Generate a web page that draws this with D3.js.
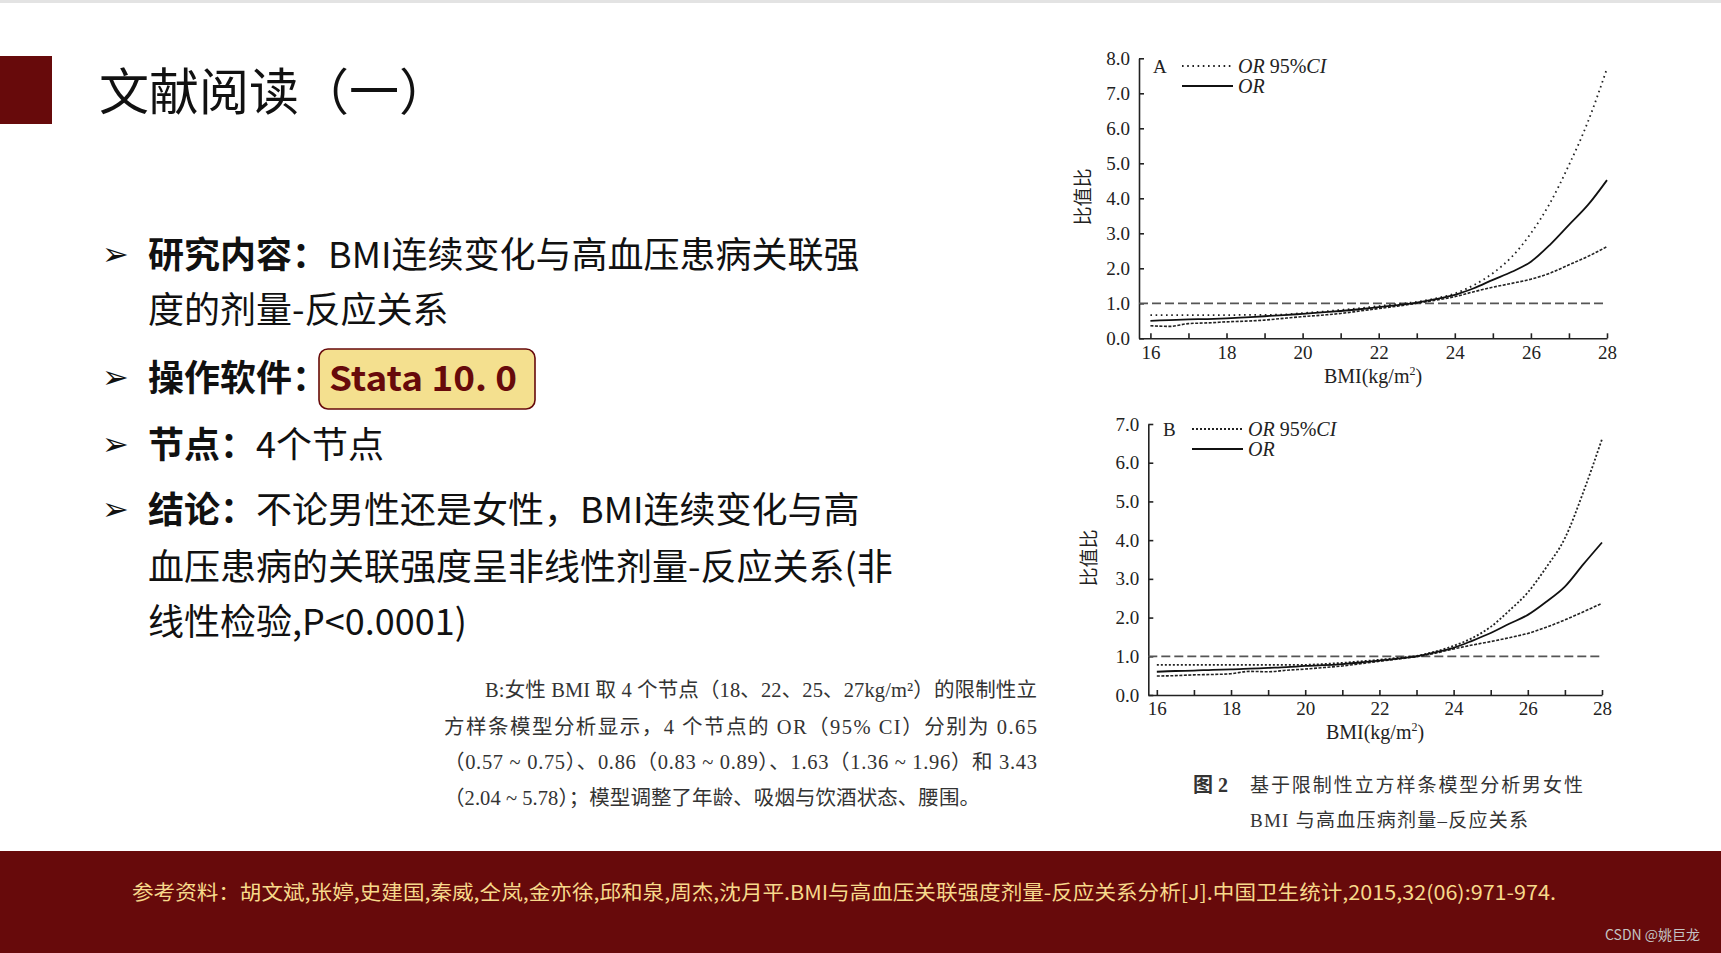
<!DOCTYPE html>
<html>
<head>
<meta charset="utf-8">
<style>
  body { margin: 0px; background: white; }
  text { font-family: "Noto Sans CJK SC", "Noto Sans", sans-serif; }
  .serif text, text.serif { font-family: "Liberation Serif", "Noto Sans CJK SC", serif; }
</style>
</head>
<body>
<svg id="mysvg"></svg>
<script src="https://cdn.jsdelivr.net/npm/d3@7"></script>
<script>
// BMI values the curves were read at
var bmi = [16,16.5,17,17.5,18,18.5,19,19.5,20,20.5,21,21.5,22,22.5,23,23.5,24,24.5,25,25.5,26,26.5,27,27.5,28];

// panel A (men)
var orA    = [0.50,0.52,0.54,0.55,0.57,0.60,0.63,0.66,0.70,0.74,0.78,0.83,0.89,0.95,1.02,1.12,1.24,1.43,1.67,1.90,2.19,2.67,3.24,3.81,4.52];
var upperA = [0.66,0.66,0.66,0.66,0.66,0.67,0.67,0.68,0.72,0.76,0.81,0.86,0.92,0.98,1.04,1.14,1.28,1.52,1.86,2.33,3.00,3.86,4.95,6.19,7.71];
var lowerA = [0.36,0.34,0.42,0.44,0.47,0.49,0.52,0.57,0.62,0.66,0.71,0.78,0.85,0.92,1.00,1.09,1.19,1.33,1.46,1.57,1.69,1.86,2.10,2.34,2.62];

// panel B (women)
var orB    = [0.60,0.62,0.63,0.65,0.66,0.68,0.70,0.72,0.75,0.77,0.80,0.84,0.89,0.94,1.00,1.10,1.22,1.40,1.60,1.84,2.07,2.41,2.80,3.38,3.94];
var upperB = [0.78,0.78,0.78,0.78,0.78,0.78,0.78,0.78,0.78,0.80,0.83,0.87,0.91,0.96,1.01,1.12,1.27,1.47,1.76,2.18,2.65,3.30,4.05,5.25,6.61];
var lowerB = [0.49,0.50,0.52,0.53,0.55,0.61,0.60,0.64,0.67,0.71,0.75,0.81,0.87,0.93,0.99,1.08,1.19,1.29,1.38,1.48,1.59,1.75,1.94,2.15,2.37];

var xTicks = [16,17,18,19,20,21,22,23,24,25,26,27,28];
var yTicksA = [0,1,2,3,4,5,6,7,8];
var yTicksB = [0,1,2,3,4,5,6,7];

var title = "文献阅读（一）";
var bullets = [
  {bold: "研究内容：", rest: ["BMI连续变化与高血压患病关联强", "度的剂量-反应关系"]},
  {bold: "操作软件：", rest: []},
  {bold: "节点：", rest: ["4个节点"]},
  {bold: "结论：", rest: ["不论男性还是女性，BMI连续变化与高", "血压患病的关联强度呈非线性剂量-反应关系(非", "线性检验,P<0.0001)"]}
];
var software = "Stata 10. 0";
var paperLines = [
  "B:女性 BMI 取 4 个节点（18、22、25、27kg/m²）的限制性立",
  "方样条模型分析显示，4 个节点的 OR（95% CI）分别为 0.65",
  "（0.57 ~ 0.75）、0.86（0.83 ~ 0.89）、1.63（1.36 ~ 1.96）和 3.43",
  "（2.04 ~ 5.78）；模型调整了年龄、吸烟与饮酒状态、腰围。"
];
var captionLines = ["基于限制性立方样条模型分析男女性", "BMI 与高血压病剂量–反应关系"];
var reference = "参考资料：胡文斌,张婷,史建国,秦威,仝岚,金亦徐,邱和泉,周杰,沈月平.BMI与高血压关联强度剂量-反应关系分析[J].中国卫生统计,2015,32(06):971-974.";

var W = 1721, H = 953;
var darkRed = "#670a0b";

var svg = d3.select("#mysvg")
  .attr("width", W)
  .attr("height", H);

// top strip, title block
svg.append("rect").attr("x", 0).attr("y", 0).attr("width", W).attr("height", 3).attr("fill", "#e3e3e3");
svg.append("rect").attr("x", 0).attr("y", 56).attr("width", 52).attr("height", 68).attr("fill", darkRed);
svg.append("text").attr("x", 99).attr("y", 110)
  .attr("font-size", 50).attr("fill", "#111")
  .text(title);

// bullet list
var lineY = [[268, 323], [391], [458], [523, 580, 635]];
bullets.forEach(function(b, i) {
  var ys = lineY[i];
  svg.append("text").attr("x", 102).attr("y", ys[0] - 3)
    .style("font-family", "DejaVu Sans").attr("font-size", 32).attr("fill", "#111")
    .text("➢");
  var t = svg.append("text").attr("x", 148).attr("y", ys[0]).attr("font-size", 36).attr("fill", "#111");
  t.append("tspan").attr("font-weight", "bold").text(b.bold);
  if (b.rest.length) t.append("tspan").text(b.rest[0]);
  for (var k = 1; k < b.rest.length; k++) {
    svg.append("text").attr("x", 148).attr("y", ys[k]).attr("font-size", 36).attr("fill", "#111")
      .text(b.rest[k]);
  }
});

// software badge
svg.append("rect").attr("x", 319).attr("y", 349).attr("width", 216).attr("height", 60).attr("rx", 9)
  .attr("fill", "#f4e08f").attr("stroke", darkRed).attr("stroke-width", 1.6);
svg.append("text").attr("x", 329).attr("y", 391)
  .attr("font-size", 34).attr("font-weight", "bold").attr("fill", darkRed)
  .attr("textLength", 188).attr("lengthAdjust", "spacingAndGlyphs")
  .text(software);

// quoted paper text
var paperX = [485, 444, 444, 444];
var paperY = [697, 734, 769, 805];
var paperEnd = [1037, 1037, 1037, 980];
paperLines.forEach(function(s, i) {
  svg.append("text").attr("class", "serif").attr("x", paperX[i]).attr("y", paperY[i])
    .attr("font-size", 20.5).attr("fill", "#333")
    .attr("textLength", paperEnd[i] - paperX[i]).attr("lengthAdjust", "spacing")
    .text(s);
});

// figure caption
svg.append("text").attr("class", "serif").attr("x", 1193).attr("y", 792)
  .attr("font-size", 20).attr("font-weight", "bold").attr("fill", "#333").text("图 2");
svg.append("text").attr("class", "serif").attr("x", 1250).attr("y", 792)
  .attr("font-size", 19).attr("fill", "#333")
  .attr("textLength", 333).attr("lengthAdjust", "spacing").text(captionLines[0]);
svg.append("text").attr("class", "serif").attr("x", 1250).attr("y", 827)
  .attr("font-size", 19).attr("fill", "#333")
  .attr("textLength", 278).attr("lengthAdjust", "spacing").text(captionLines[1]);

// footer
svg.append("rect").attr("x", 0).attr("y", 851).attr("width", W).attr("height", H - 851).attr("fill", darkRed);
svg.append("text").attr("x", 132).attr("y", 900)
  .attr("font-size", 20).attr("fill", "#f7d98b")
  .attr("textLength", 1424).attr("lengthAdjust", "spacingAndGlyphs")
  .text(reference);
svg.append("text").attr("x", 1605).attr("y", 940)
  .attr("font-size", 14).attr("fill", "#c4c4c4").text("CSDN @姚巨龙");

// one spline panel
function panel(opt) {
  var x = d3.scaleLinear().domain([opt.x0, 28]).range([opt.left, opt.right]);
  var y = d3.scaleLinear().domain([0, opt.ymax]).range([opt.bottom, opt.top]);
  var g = svg.append("g").attr("class", "serif");

  var xAxis = d3.axisBottom(x).tickValues(xTicks).tickSize(-5).tickSizeOuter(0).tickPadding(7)
    .tickFormat(function(d) { return d % 2 == 0 ? d : ""; });
  var yAxis = d3.axisLeft(y).tickValues(opt.yTicks).tickSize(-5).tickSizeOuter(0).tickPadding(9)
    .tickFormat(d3.format(".1f"));

  var ax = g.append("g").attr("transform", "translate(0," + opt.bottom + ")").call(xAxis);
  var ay = g.append("g").attr("transform", "translate(" + opt.left + ",0)").call(yAxis);
  [ax, ay].forEach(function(a) {
    a.selectAll("path, line").attr("stroke", "#222").attr("stroke-width", 1.6);
    a.selectAll("text").attr("font-size", 19).attr("fill", "#222")
      .style("font-family", "Liberation Serif");
  });

  // reference line at OR = 1
  g.append("path")
    .datum([opt.x0, 28])
    .attr("d", d3.line().x(function(d) { return x(d); }).y(y(1)))
    .attr("fill", "none").attr("stroke", "#555").attr("stroke-width", 1.8)
    .attr("stroke-dasharray", "9,4");

  var line = d3.line()
    .x(function(d, i) { return x(bmi[i]); })
    .y(function(d) { return y(d); })
    .curve(d3.curveMonotoneX);

  g.append("path").datum(opt.upper).attr("d", line)
    .attr("fill", "none").attr("stroke", "#222").attr("stroke-width", 1.8)
    .attr("stroke-dasharray", opt.upperDash);
  g.append("path").datum(opt.lower).attr("d", line)
    .attr("fill", "none").attr("stroke", "#222").attr("stroke-width", 1.6)
    .attr("stroke-dasharray", "3,1.5");
  g.append("path").datum(opt.or).attr("d", line)
    .attr("fill", "none").attr("stroke", "#111").attr("stroke-width", 1.8);

  // axis titles
  g.append("text")
    .attr("transform", "translate(" + opt.ylabX + "," + opt.ylabY + ") rotate(-90)")
    .attr("text-anchor", "middle").attr("font-size", 19).attr("fill", "#222")
    .style("font-family", "Noto Sans CJK SC")
    .text("比值比");
  var xl = g.append("text").attr("x", opt.xlabX).attr("y", opt.xlabY)
    .attr("text-anchor", "middle").attr("font-size", 20).attr("fill", "#222");
  xl.append("tspan").text("BMI(kg/m");
  xl.append("tspan").attr("font-size", 12).attr("dy", -8).text("2");
  xl.append("tspan").attr("dy", 8).text(")");

  // legend
  var lx = opt.legX, ly = opt.legY;
  g.append("text").attr("x", lx - 29).attr("y", ly + 7).attr("font-size", 19).attr("fill", "#222").text(opt.letter);
  g.append("line").attr("x1", lx).attr("x2", lx + 51).attr("y1", ly).attr("y2", ly)
    .attr("stroke", "#222").attr("stroke-width", 1.8).attr("stroke-dasharray", opt.upperDash);
  var t1 = g.append("text").attr("x", lx + 56).attr("y", ly + 7).attr("font-size", 20).attr("fill", "#222");
  t1.append("tspan").attr("font-style", "italic").text("OR");
  t1.append("tspan").text(" 95%");
  t1.append("tspan").attr("font-style", "italic").text("CI");
  g.append("line").attr("x1", lx).attr("x2", lx + 51).attr("y1", ly + 20).attr("y2", ly + 20)
    .attr("stroke", "#111").attr("stroke-width", 1.8);
  g.append("text").attr("x", lx + 56).attr("y", ly + 27).attr("font-size", 20).attr("fill", "#222")
    .attr("font-style", "italic").text("OR");
}

panel({
  letter: "A", or: orA, upper: upperA, lower: lowerA, upperDash: "1.6,3.6",
  x0: 15.7, left: 1139, right: 1607, top: 58.3, bottom: 338.3, ymax: 8, yTicks: yTicksA,
  ylabX: 1090, ylabY: 197, xlabX: 1373, xlabY: 383, legX: 1182, legY: 66
});
panel({
  letter: "B", or: orB, upper: upperB, lower: lowerB, upperDash: "2,2",
  x0: 15.77, left: 1148.3, right: 1602, top: 424, bottom: 695, ymax: 7, yTicks: yTicksB,
  ylabX: 1096, ylabY: 558, xlabX: 1375, xlabY: 739, legX: 1192, legY: 429
});
</script>
</body>
</html>
